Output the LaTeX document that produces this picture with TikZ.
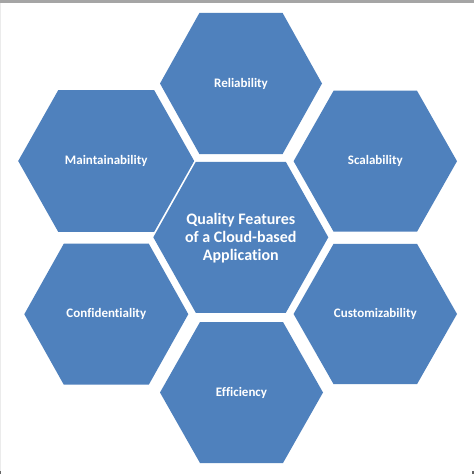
\documentclass[tikz,border=0pt]{standalone}
\usepackage{fontspec}
\setmainfont[Ligatures=NoCommon]{Carlito}
\definecolor{hexblue}{RGB}{79,129,189}
\definecolor{framegray}{RGB}{165,165,165}
\newcommand\hexcell[7]{%
  \fill[hexblue] (#2-#4,#3) -- (#2-#5,#3-#6) -- (#2+#5,#3-#6) -- (#2+#4,#3)
     -- (#2+#5,#3+#6) -- (#2-#5,#3+#6) -- cycle;
  \node[hexlabel] (#1) at (#2,#3) {#7};}
\begin{document}
\begin{tikzpicture}[x=1pt,y=-1pt,
  hexlabel/.style={text=white,font=\bfseries\fontsize{13}{15}\selectfont,align=center,inner sep=0pt},
  centerlabel/.style={font=\bfseries\fontsize{16}{17.7}\selectfont}]
\useasboundingbox (0,0) rectangle (474,474);
\fill[white] (0,0) rectangle (474,474);
\fill[framegray] (0,0) rectangle (474,2.5);
\fill[black!8] (0,2.5) rectangle (1.2,474);
\fill[black!60] (0,471.3) rectangle (1.2,474);
\fill[black!60] (472,471) rectangle (473.5,473.7);
\hexcell{rel}{241}{83.5}{81}{41.5}{70.7}{Reliability}
\hexcell{main}{106.2}{161}{88}{48}{70.8}{Maintainability}
\hexcell{scal}{375.3}{161.2}{81.7}{41.7}{70.5}{Scalability}
\hexcell{core}{240.8}{237.3}{87.5}{45}{75.5}{}
\hexcell{conf}{106.3}{314.2}{82}{42.5}{70.5}{Confidentiality}
\hexcell{cust}{375.3}{314}{81.7}{41.7}{70.2}{Customizability}
\hexcell{eff}{241.5}{392.5}{81.5}{41.5}{70.5}{Efficiency}
\node[hexlabel,centerlabel] (coretext) at (240.8,238) {Quality Features\\of a Cloud-based\\Application};
\end{tikzpicture}
\end{document}
